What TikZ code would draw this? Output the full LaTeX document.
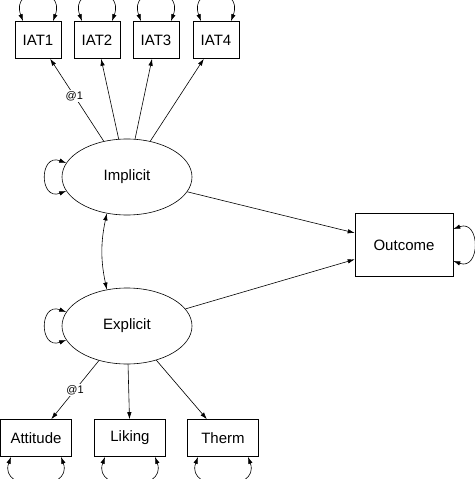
\documentclass[tikz,border=0pt]{standalone}
\usepackage{fontspec}
\setmainfont{Liberation Sans}
\usetikzlibrary{shapes.geometric,arrows.meta}
\tikzset{every path/.style={semithick}, >={Latex[length=7pt,width=4.5pt]},
  obs/.style={draw, minimum height=37pt, inner sep=2pt},
  lat/.style={draw, ellipse, minimum width=130pt, minimum height=76pt},
  fixlabel/.style={fill=white, inner sep=1pt, font=\fontsize{11}{13}\selectfont},
  selfloop/.style={<->, distance=38pt}}

\begin{document}
\begin{tikzpicture}[x=1pt, y=-1pt, font=\fontsize{15}{18}\selectfont]
    \useasboundingbox (0,0) rectangle (474,479);

    \node[obs, minimum width=46pt] (IAT1) at (38,40) {IAT1};
    \node[obs, minimum width=46pt] (IAT2) at (97,40) {IAT2};
    \node[obs, minimum width=46pt] (IAT3) at (156,40) {IAT3};
    \node[obs, minimum width=46pt] (IAT4) at (216,40) {IAT4};

    \node[lat] (Implicit) at (127,177) {Implicit};
    \node[lat] (Explicit) at (127,326) {Explicit};
    \node[obs, minimum width=98pt, minimum height=63pt] (Outcome) at (404,245) {Outcome};

    \node[obs, minimum width=71pt] (Attitude) at (36,438) {Attitude};
    \node[obs, minimum width=71pt] (Liking) at (130,438) {Liking};
    \node[obs, minimum width=71pt] (Therm) at (223,438) {Therm};

    \draw[->] (Implicit) -- node[fixlabel, pos=0.55] {@1} (IAT1);
    \draw[->] (Implicit) -- (IAT2);
    \draw[->] (Implicit) -- (IAT3);
    \draw[->] (Implicit) -- (IAT4);

    \draw[->] (Explicit) -- node[fixlabel, pos=0.5] {@1} (Attitude);
    \draw[->] (Explicit) -- (Liking);
    \draw[->] (Explicit) -- (Therm);

    \draw[->] (Implicit) -- (Outcome);
    \draw[->] (Explicit) -- (Outcome);
    \draw[<->] (Implicit.241) to[bend right=12] (Explicit.119);

    % variances
    \draw[selfloop] ([xshift=-15pt]IAT1.north) to[out=110, in=70] ([xshift=15pt]IAT1.north);
    \draw[selfloop] ([xshift=-15pt]IAT2.north) to[out=110, in=70] ([xshift=15pt]IAT2.north);
    \draw[selfloop] ([xshift=-15pt]IAT3.north) to[out=110, in=70] ([xshift=15pt]IAT3.north);
    \draw[selfloop] ([xshift=-15pt]IAT4.north) to[out=110, in=70] ([xshift=15pt]IAT4.north);

    \draw[selfloop] ([xshift=-25pt]Attitude.south) to[out=-110, in=-70] ([xshift=25pt]Attitude.south);
    \draw[selfloop] ([xshift=-25pt]Liking.south) to[out=-110, in=-70] ([xshift=25pt]Liking.south);
    \draw[selfloop] ([xshift=-25pt]Therm.south) to[out=-110, in=-70] ([xshift=25pt]Therm.south);

    \draw[<->] (Implicit.167) to[out=160, in=200, distance=29pt] (Implicit.193);
    \draw[<->] (Explicit.167) to[out=160, in=200, distance=29pt] (Explicit.193);
    \draw[<->] ([yshift=16pt]Outcome.east) to[out=20, in=-20, distance=29pt] ([yshift=-16pt]Outcome.east);
\end{tikzpicture}
\end{document}
